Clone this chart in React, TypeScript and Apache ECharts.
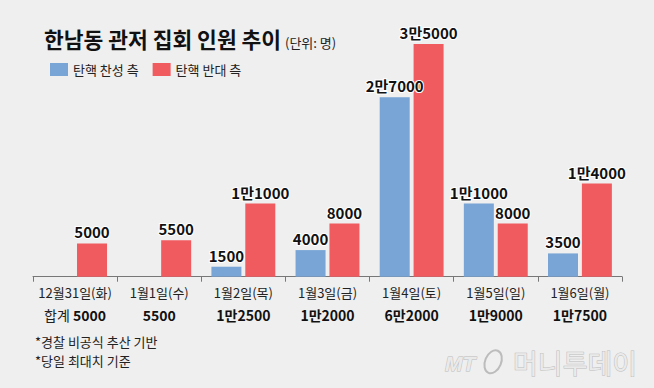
import React, { useEffect, useRef } from "react";
import * as echarts from "echarts";

const categories = ["12월31일(화)", "1월1일(수)", "1월2일(목)", "1월3일(금)", "1월4일(토)", "1월5일(일)", "1월6일(월)"];
const proValues = [0, 0, 1500, 4000, 27000, 11000, 3500];
const antiValues = [5000, 5500, 11000, 8000, 35000, 8000, 14000];
const seriesNames = ["탄핵 찬성 측", "탄핵 반대 측"];
const titleText = "한남동 관저 집회 인원 추이";
const unitText = "(단위: 명)";
const notes = ["*경찰 비공식 추산 기반", "*당일 최대치 기준"];
const totalPrefix = "합계 ";

const KFONT = "'Noto Sans CJK KR', sans-serif";

function fmt(v: number): string {
  const man = Math.floor(v / 10000);
  const rest = v % 10000;
  if (man === 0) return String(rest);
  return rest === 0 ? `${man}만` : `${man}만${rest}`;
}

export default function App() {
  const ref = useRef<HTMLDivElement>(null);
  useEffect(() => {
    if (!ref.current) return;
    const chart = echarts.init(ref.current, null, { renderer: "svg" });
    const totals = categories.map((_, i) => proValues[i] + antiValues[i]);
    const labelStyle = {
      show: true,
      position: "top" as const,
      distance: 4,
      fontFamily: KFONT,
      fontSize: 15,
      fontWeight: "bold" as const,
      color: "#111",
      textBorderColor: "#fff",
      textBorderWidth: 2,
      formatter: (p: any) => (p.value === 0 ? "" : fmt(p.value)),
    };
    chart.setOption({
      animation: false,
      backgroundColor: "#efefef",
      grid: { left: 33, right: 32, top: 10.7, bottom: 111.3 },
      legend: {
        left: 45,
        top: 58,
        itemWidth: 18,
        itemHeight: 13,
        itemGap: 14,
        icon: "rect",
        textStyle: { fontFamily: KFONT, fontSize: 13, color: "#222" },
        data: seriesNames,
      },
      xAxis: {
        type: "category",
        data: categories,
        axisLine: { lineStyle: { color: "#777", width: 1 } },
        axisTick: { show: true, length: 5, lineStyle: { color: "#777" } },
        axisLabel: {
          interval: 0,
          margin: 5,
          formatter: (val: string, idx: number) => {
            const t = totals[idx];
            const second = idx === 0 ? `{b|${totalPrefix}}{c|${fmt(t)}}` : `{c|${fmt(t)}}`;
            return `{a|${val}}\n${second}`;
          },
          rich: {
            a: { fontFamily: KFONT, fontSize: 13, color: "#222", lineHeight: 22 },
            b: { fontFamily: KFONT, fontSize: 14, color: "#222", lineHeight: 22 },
            c: { fontFamily: KFONT, fontSize: 14, fontWeight: "bold", color: "#111", lineHeight: 22 },
          },
        },
      },
      yAxis: { type: "value", show: false, min: 0, max: 40000 },
      series: [
        {
          name: seriesNames[0],
          type: "bar",
          data: proValues,
          barWidth: 30,
          barGap: "13%",
          itemStyle: { color: "#78a4d6" },
          label: labelStyle,
        },
        {
          name: seriesNames[1],
          type: "bar",
          data: antiValues,
          barWidth: 30,
          barGap: "13%",
          itemStyle: { color: "#f05b5f" },
          label: labelStyle,
        },
      ],
      graphic: [
        {
          type: "text",
          x: 44,
          y: 38,
          style: { text: titleText, font: `bold 21.5px ${KFONT}`, fill: "#111", verticalAlign: "middle" },
        },
        {
          type: "text",
          x: 285,
          y: 42,
          style: { text: unitText, font: `13px ${KFONT}`, fill: "#222", verticalAlign: "middle" },
        },
        {
          type: "text",
          x: 35,
          y: 341,
          style: { text: notes[0], font: `13px ${KFONT}`, fill: "#222", verticalAlign: "middle" },
        },
        {
          type: "text",
          x: 35,
          y: 360.5,
          style: { text: notes[1], font: `13px ${KFONT}`, fill: "#222", verticalAlign: "middle" },
        },
        {
          type: "text",
          x: 445,
          y: 363,
          style: {
            text: "MT",
            font: `italic bold 21px 'Liberation Sans', sans-serif`,
            fill: "#eaeaea",
            stroke: "#bcbcbc",
            lineWidth: 1,
            verticalAlign: "middle",
          },
        },
        {
          type: "ellipse",
          shape: { cx: 493, cy: 362, rx: 8, ry: 12 },
          rotation: -0.4,
          originX: 493,
          originY: 362,
          style: { fill: "none", stroke: "#bcbcbc", lineWidth: 2 },
        },
        {
          type: "text",
          x: 513,
          y: 362,
          style: {
            text: "머니투데이",
            font: `27px ${KFONT}`,
            fill: "#eaeaea",
            stroke: "#bcbcbc",
            lineWidth: 1,
            verticalAlign: "middle",
          },
        },
      ],
    });
    return () => chart.dispose();
  }, []);
  return <div ref={ref} style={{ position: "fixed", left: 0, top: 0, width: 654, height: 388 }} />;
}
